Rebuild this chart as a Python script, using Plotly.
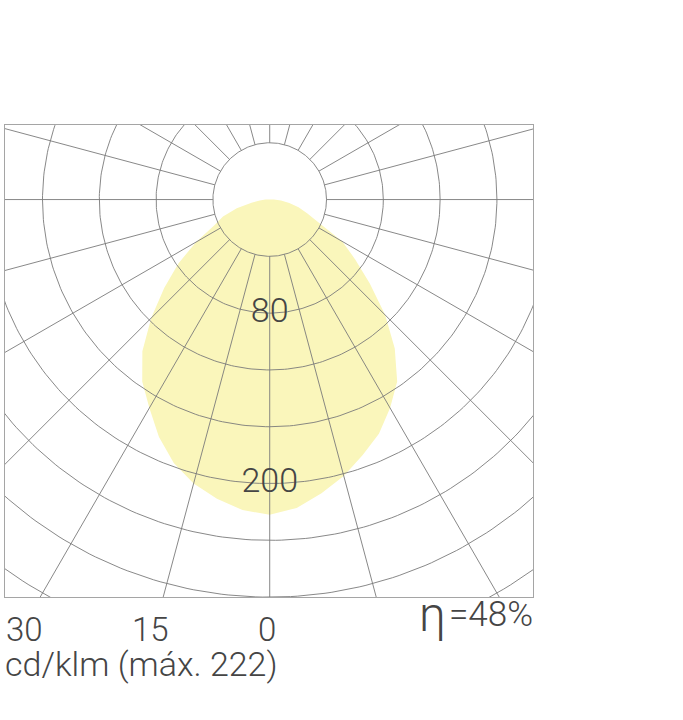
import numpy as np
import plotly.graph_objects as go

# ---- data (cd/klm) ----
gamma_deg = [0, 5, 10, 15, 20, 25, 30, 35, 40, 45, 50, 55, 60, 65, 70, 75, 80, 85, 90]
intensity_right = [222, 218, 210, 201.5, 191.5, 182, 169.5, 156.5, 137, 115, 92, 73.5, 59, 38, 28, 21, 14, 8, 3]
intensity_left = [222, 219.5, 214, 207, 197.5, 184.5, 169.5, 156.5, 139.5, 118, 97, 78.5, 60, 43, 35, 24, 13, 7, 3]

ring_values = [40, 80, 120, 160, 200, 240, 280, 320, 360]
spoke_angles = list(range(0, 360, 15))
ring_labels = [80, 200]
scale_labels = ["30", "15", "0"]
axis_title = "cd/klm (máx. 222)"
efficiency = "=48%"

GRID = "#7a7a7a"
TEXT = "#454545"
FONT = "Roboto"

fig = go.Figure()

# luminous intensity curve (0° = nadir, downwards)
g = np.radians(gamma_deg)
ir = np.array(intensity_right)
il = np.array(intensity_left)
xs = np.concatenate([ir * np.sin(g), (-il * np.sin(g))[::-1]])
ys = np.concatenate([-ir * np.cos(g), (-il * np.cos(g))[::-1]])
fig.add_trace(go.Scatter(x=xs, y=ys, mode="lines", fill="toself",
                         fillcolor="#FAF6BB", line=dict(width=0, color="#FAF6BB"),
                         hoverinfo="skip", showlegend=False))

# concentric rings
t = np.linspace(0, 2 * np.pi, 361)
rx, ry = [], []
for r in ring_values:
    rx += list(r * np.cos(t)) + [None]
    ry += list(r * np.sin(t)) + [None]
fig.add_trace(go.Scatter(x=rx, y=ry, mode="lines", line=dict(color=GRID, width=0.9),
                         hoverinfo="skip", showlegend=False))

# radial spokes starting at the first ring
sx, sy = [], []
r0, r1 = ring_values[0], 600
for a in spoke_angles:
    ar = np.radians(a)
    sx += [r0 * np.sin(ar), r1 * np.sin(ar), None]
    sy += [-r0 * np.cos(ar), -r1 * np.cos(ar), None]
fig.add_trace(go.Scatter(x=sx, y=sy, mode="lines", line=dict(color=GRID, width=0.9),
                         hoverinfo="skip", showlegend=False))

# ring value labels
fig.add_trace(go.Scatter(x=[0] * len(ring_labels), y=[-v for v in ring_labels],
                         mode="text", text=[str(v) for v in ring_labels],
                         textfont=dict(size=34, color=TEXT, family=FONT, weight=300),
                         textposition="middle center", hoverinfo="skip", showlegend=False))

L, R, T, B = 5, 533, 125, 597
W, H = 683, 720

def px(x):
    return (x - L) / (R - L)

def py(y):
    return (B - y) / (B - T)

annotations = []
for lab, cx in zip(scale_labels, [24, 150, 267]):
    annotations.append(dict(text=lab, x=px(cx), y=py(629), xref="paper", yref="paper",
                            xanchor="center", yanchor="middle", showarrow=False,
                            font=dict(size=33, color=TEXT, family=FONT, weight=300)))
annotations.append(dict(text=axis_title, x=px(3), y=py(664), xref="paper", yref="paper",
                        xanchor="left", yanchor="middle", showarrow=False,
                        font=dict(size=34, color=TEXT, family=FONT, weight=300)))
annotations.append(dict(text=efficiency, x=px(535), y=py(614), xref="paper", yref="paper",
                        xanchor="right", yanchor="middle", showarrow=False,
                        font=dict(size=35, color=TEXT, family=FONT, weight=300)))
annotations.append(dict(text="η", x=px(448), y=py(614), xref="paper", yref="paper",
                        xanchor="right", yanchor="middle", showarrow=False,
                        font=dict(size=48, color=TEXT, family=FONT, weight=300)))

fig.update_layout(
    width=W, height=H,
    margin=dict(l=L, r=W - R, t=T, b=H - B),
    paper_bgcolor="white", plot_bgcolor="white",
    xaxis=dict(range=[-186.4, 185.4], showgrid=False, zeroline=False, showticklabels=False,
               ticks="", showline=True, mirror=True, linecolor="#a5a5a5", linewidth=1,
               fixedrange=True),
    yaxis=dict(range=[-279.9, 52.5], showgrid=False, zeroline=False, showticklabels=False,
               ticks="", showline=True, mirror=True, linecolor="#a5a5a5", linewidth=1,
               fixedrange=True),
    annotations=annotations,
    showlegend=False,
)

fig.write_html("out.html", config={"displayModeBar": False},
               post_script="document.body.style.margin='0px';")
